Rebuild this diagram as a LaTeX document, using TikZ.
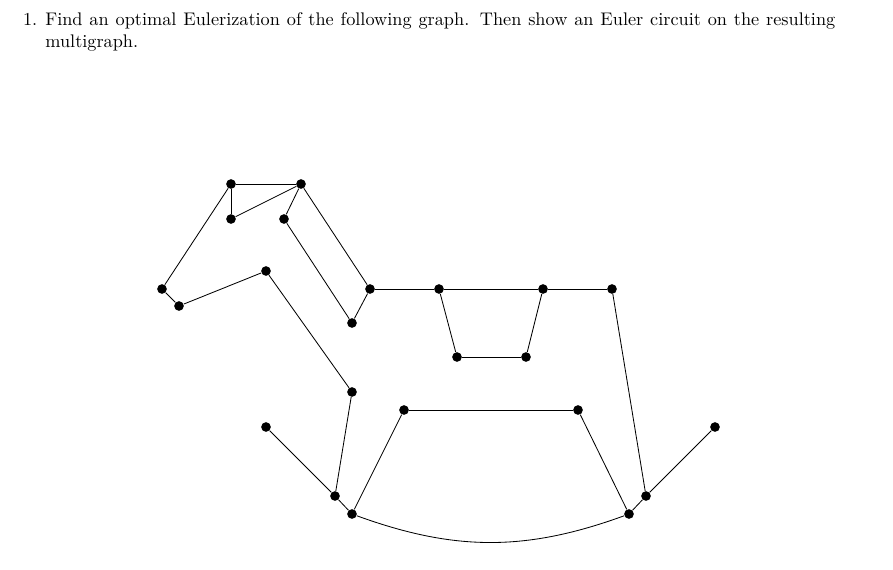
\documentclass[tikz,border=0pt]{standalone}
\begin{document}
\begin{tikzpicture}[x=0.6pt,y=-0.6pt,
  vtx/.style={circle,fill=black,inner sep=0pt,minimum size=5.8pt},
  edge/.style={line width=0.5pt}]
\useasboundingbox (0,0) rectangle (893,569);
\node[anchor=base west,inner sep=0pt] (num) at (22.7,25) {\fontsize{10.95}{13.6}\selectfont 1.};
\node[anchor=base west,inner sep=0pt] (txt) at (45,25) {\parbox[t]{474pt}{\fontsize{10.95}{13.6}\selectfont Find an optimal Eulerization of the following graph.  Then show an Euler circuit on the resulting multigraph.}};
% vertices
\node[vtx] (A) at (231,184) {};
\node[vtx] (B) at (301,184) {};
\node[vtx] (C) at (231,219) {};
\node[vtx] (D) at (284,219) {};
\node[vtx] (E) at (162,289) {};
\node[vtx] (F) at (179,306) {};
\node[vtx] (G) at (266,271) {};
\node[vtx] (H) at (370,289) {};
\node[vtx] (I) at (352,323) {};
\node[vtx] (J) at (439,289) {};
\node[vtx] (K) at (543,289) {};
\node[vtx] (L) at (612,289) {};
\node[vtx] (M) at (457,357) {};
\node[vtx] (N) at (526,357) {};
\node[vtx] (O) at (352,392) {};
\node[vtx] (P) at (404,410) {};
\node[vtx] (Q) at (578,410) {};
\node[vtx] (R) at (266,427) {};
\node[vtx] (S) at (715,427) {};
\node[vtx] (T) at (335,496) {};
\node[vtx] (U) at (352,514) {};
\node[vtx] (V) at (646,496) {};
\node[vtx] (W) at (629,514) {};
% edges
\draw[edge] (A) -- (B);
\draw[edge] (A) -- (C);
\draw[edge] (C) -- (B);
\draw[edge] (A) -- (E);
\draw[edge] (E) -- (F);
\draw[edge] (F) -- (G);
\draw[edge] (G) -- (O);
\draw[edge] (B) -- (D);
\draw[edge] (D) -- (I);
\draw[edge] (B) -- (H);
\draw[edge] (H) -- (I);
\draw[edge] (H) -- (J);
\draw[edge] (J) -- (K);
\draw[edge] (K) -- (L);
\draw[edge] (J) -- (M);
\draw[edge] (M) -- (N);
\draw[edge] (N) -- (K);
\draw[edge] (L) -- (V);
\draw[edge] (V) -- (S);
\draw[edge] (V) -- (W);
\draw[edge] (W) -- (Q);
\draw[edge] (Q) -- (P);
\draw[edge] (P) -- (U);
\draw[edge] (U) -- (T);
\draw[edge] (T) -- (R);
\draw[edge] (T) -- (O);
\draw[edge] (U) to[bend right=20] (W);
\end{tikzpicture}
\end{document}
